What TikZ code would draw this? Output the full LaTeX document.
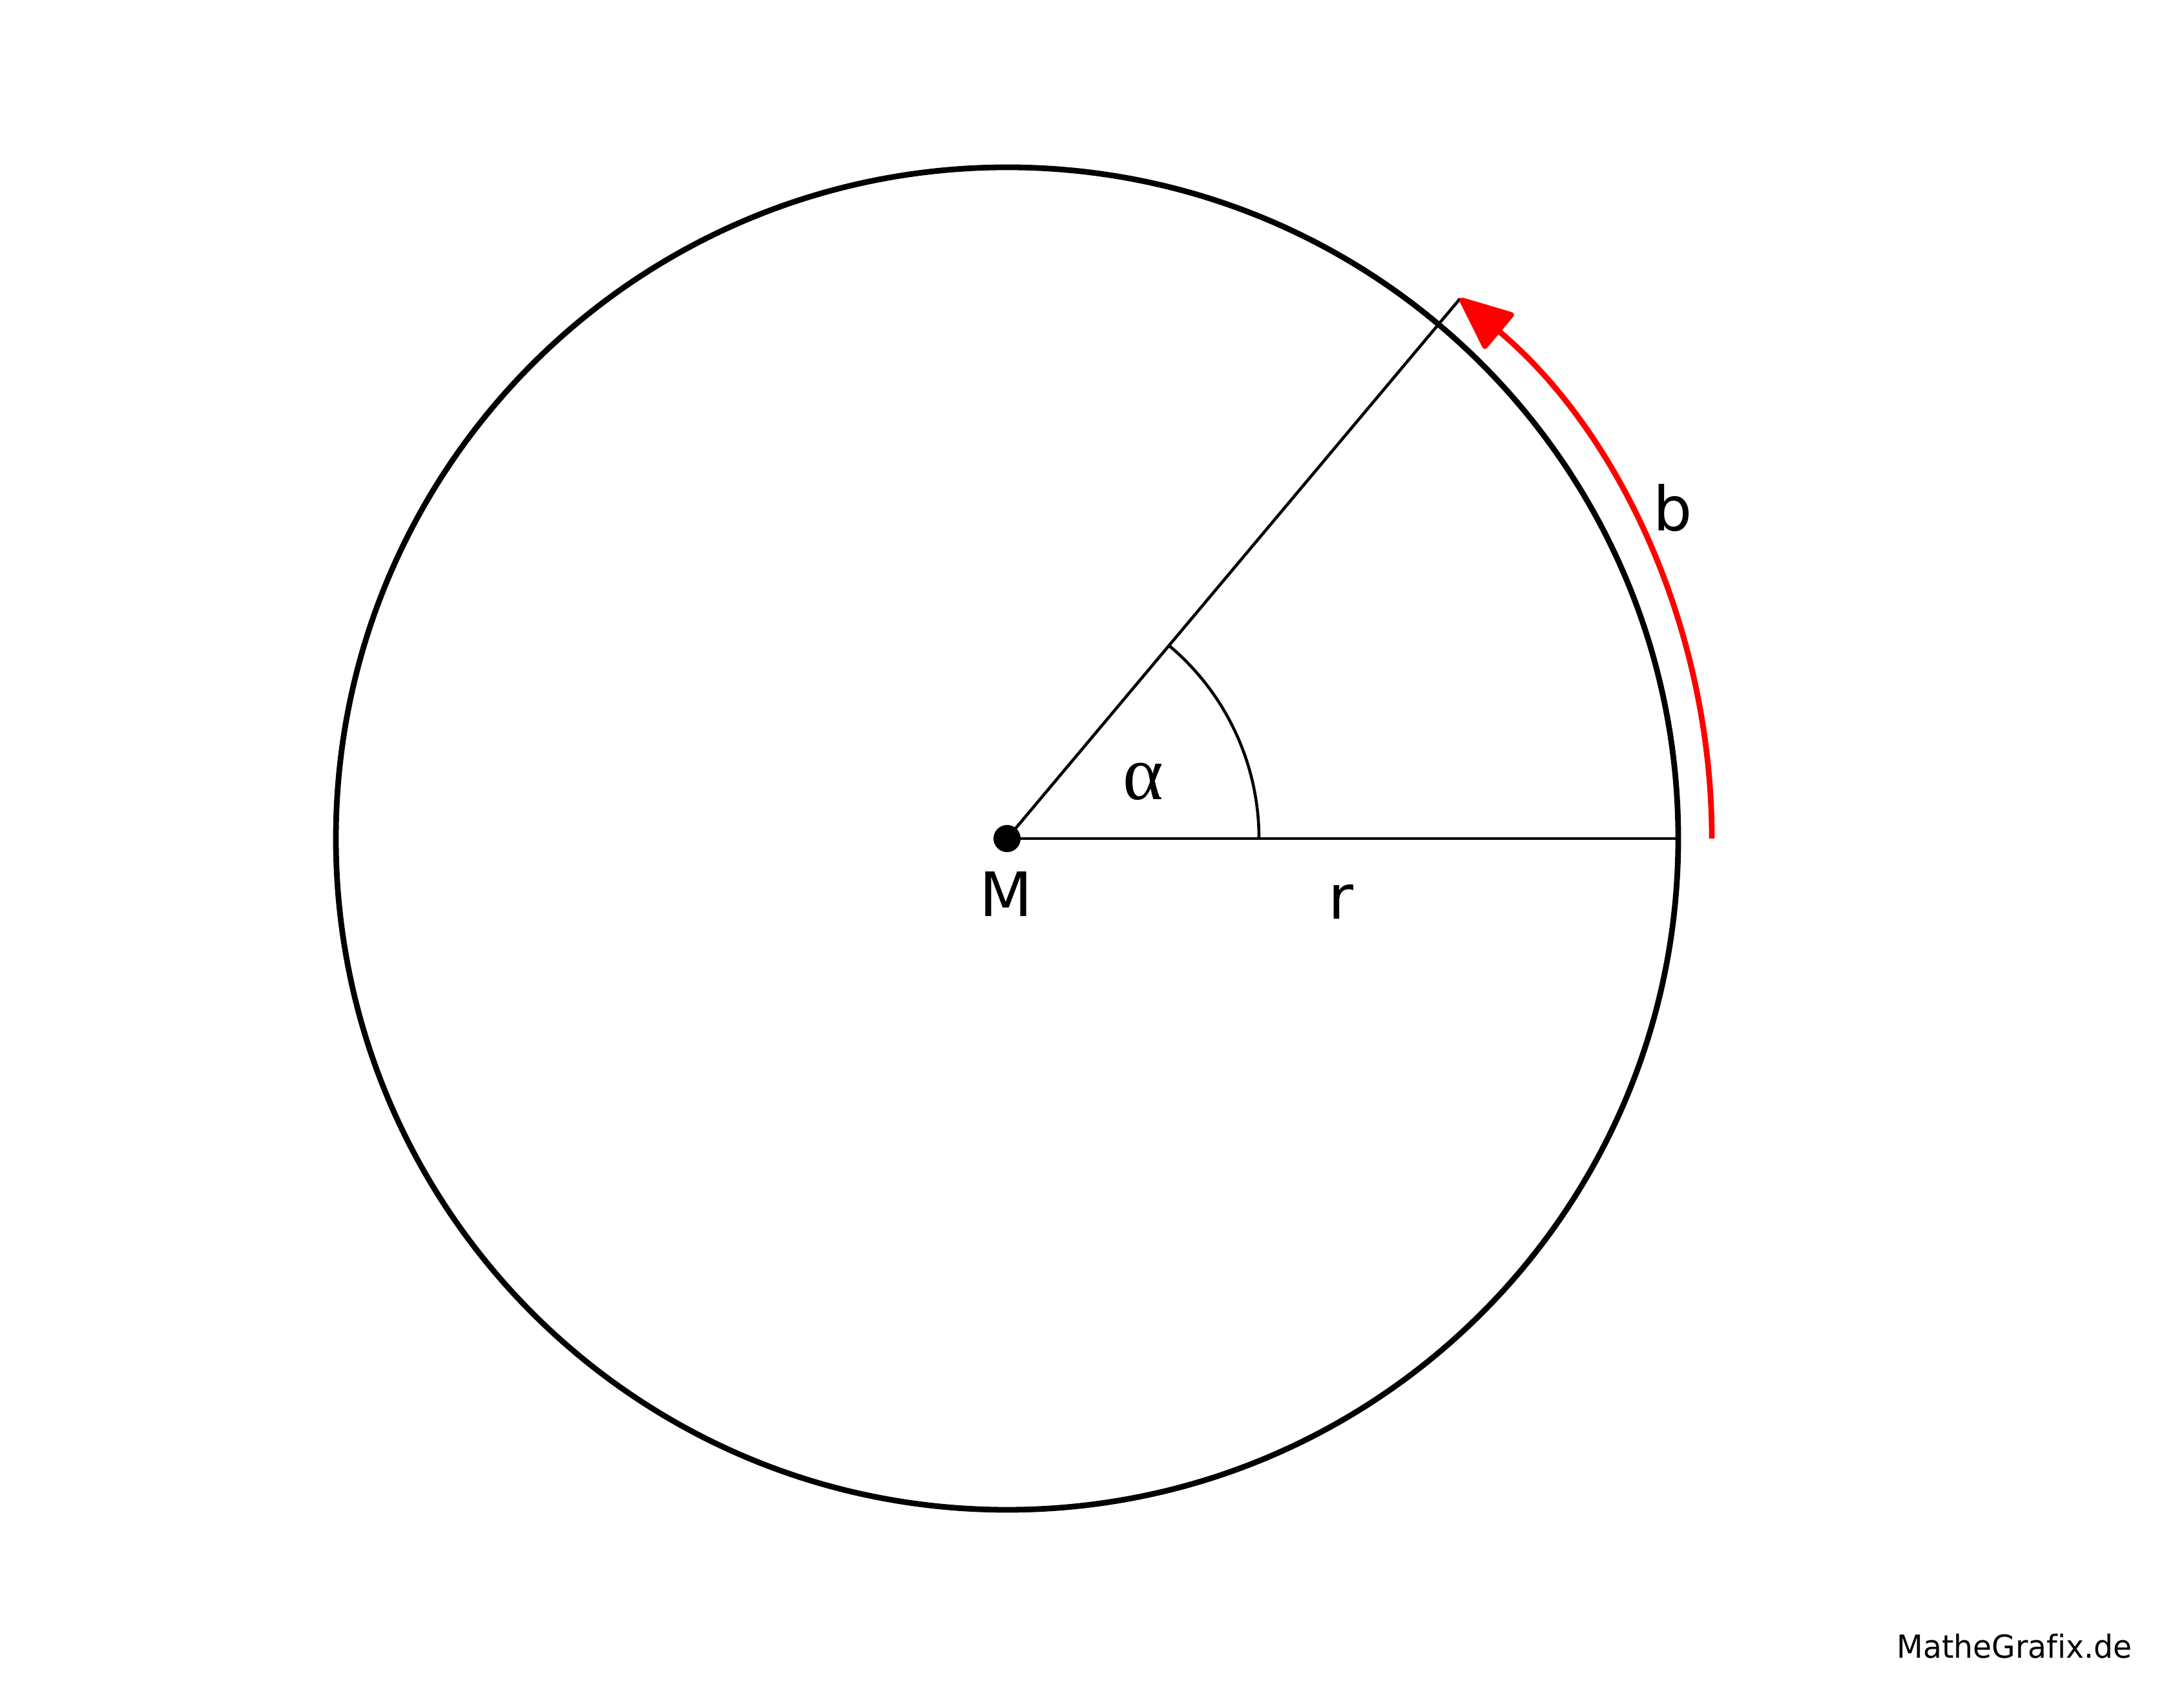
\documentclass[tikz,border=0pt]{standalone}
\usepackage{fontspec}
\setmainfont{DejaVu Sans}
\newfontfamily\greekfont{Liberation Serif}
\newfontfamily\markfont[Ligatures=NoCommon]{DejaVu Sans}
\usetikzlibrary{arrows.meta,calc}
\begin{document}
\begin{tikzpicture}[
  thickline/.style={line width=2.5pt, black},
  thinline/.style={line width=1.3pt, black},
  redarc/.style={line width=2.5pt, red, -{Triangle[length=0.88cm, width=0.74cm, round]}},
  lbl/.style={font=\fontsize{27}{32}\selectfont, anchor=base, inner sep=0pt},
]
\useasboundingbox (0,0) rectangle (33.81,26.01);
\coordinate (M) at (15.59,13.03);
\coordinate (P) at ($(M)+(0:10.39)$);
\coordinate (T) at ($(M)+(50:10.91)$);
\coordinate (A0) at ($(M)+(0:3.90)$);
\coordinate (R0) at ($(M)+(0:10.91)$);
\draw[thickline] (M) circle (10.39);
\draw[thinline] (M) -- (P);
\draw[thinline] (M) -- (T);
\draw[thinline] (A0) arc[start angle=0, end angle=50, radius=3.90];
\draw[redarc] (R0) arc[start angle=0, end angle=50, radius=10.91];
\fill (M) circle (0.21);
\node[lbl] (lM) at (15.57,11.82) {M};
\node[lbl] (lr) at (20.76,11.78) {r};
\node[lbl] (lb) at (25.90,17.79) {b};
\node[anchor=base, inner sep=0pt, font=\fontsize{34}{40}\selectfont\greekfont] (la) at (17.70,13.63) {α};
\node[anchor=base east, inner sep=0pt, font=\fontsize{14}{17}\selectfont\markfont] (wm) at (33.01,0.35) {\scalebox{0.96}[1]{MatheGraf\kern0pt ix.de}};
\end{tikzpicture}
\end{document}
